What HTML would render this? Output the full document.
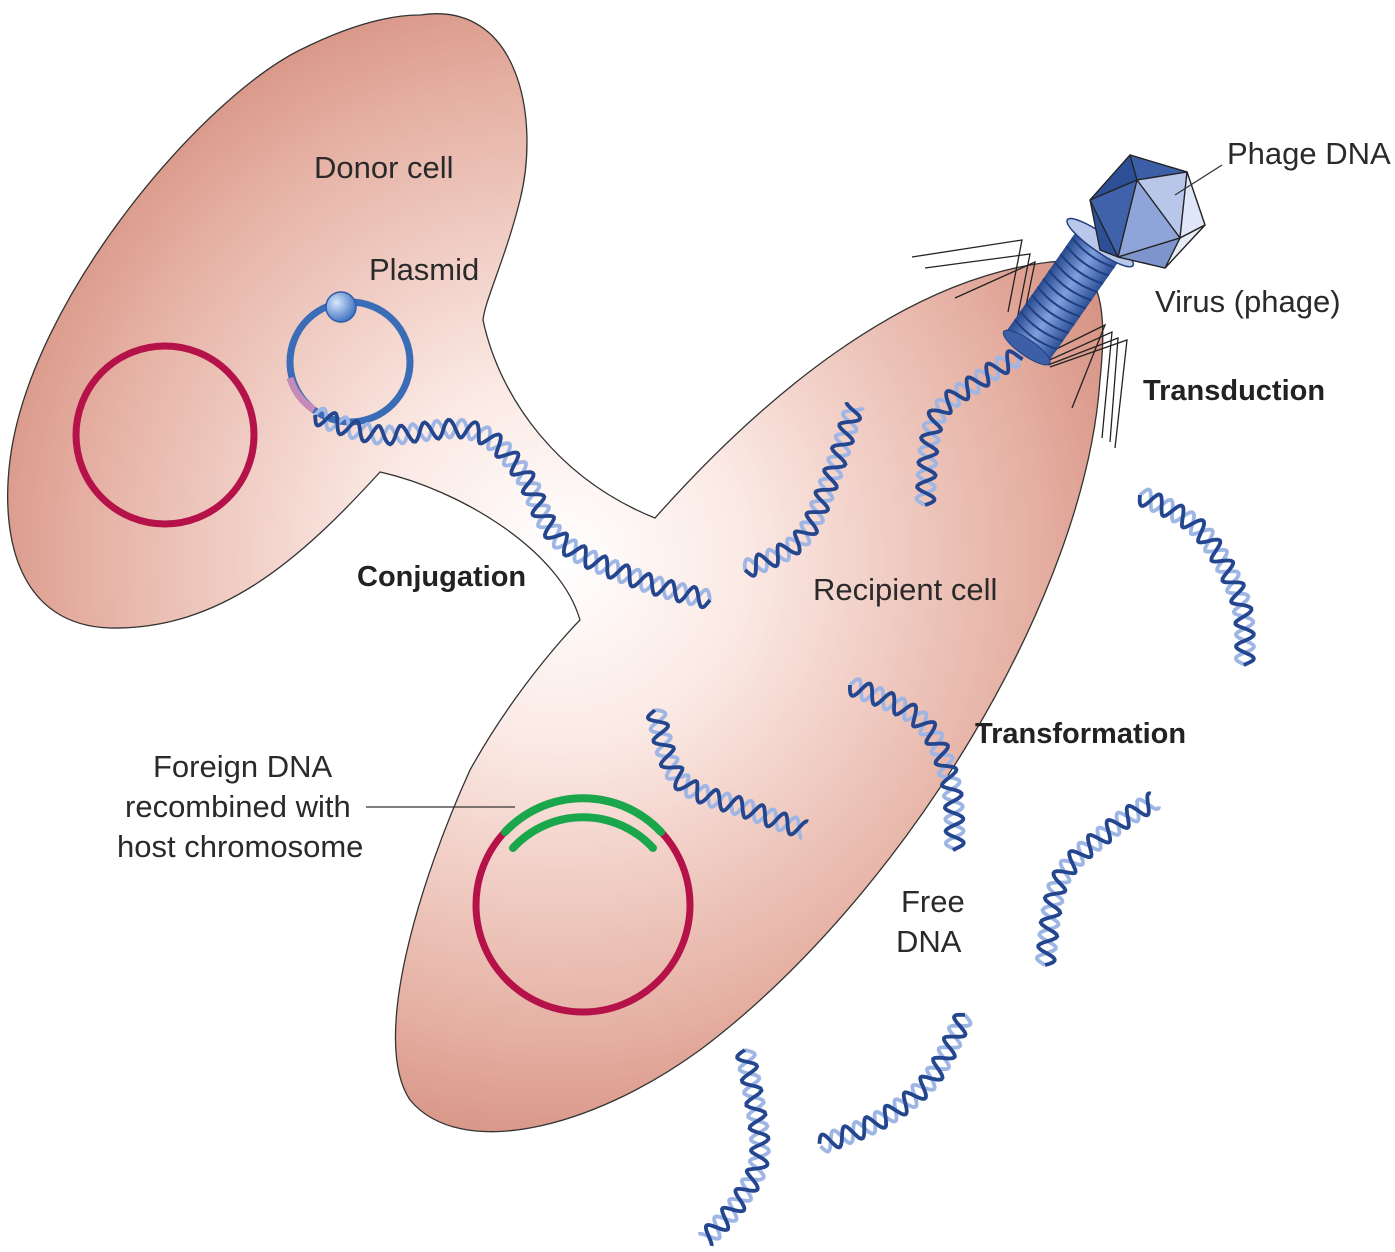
<!DOCTYPE html>
<html><head><meta charset="utf-8"><style>
body{margin:0;background:#fff}
svg{display:block}
text{font-family:"Liberation Sans",sans-serif;font-size:31px;fill:#2a2a2a}
.b{font-weight:bold;fill:#222;font-size:29px}
</style></head><body>
<svg id="s" width="1395" height="1252" viewBox="0 0 1395 1252" xmlns="http://www.w3.org/2000/svg">
<defs>
<radialGradient id="cg" gradientUnits="userSpaceOnUse" cx="560" cy="560" r="620">
<stop offset="0" stop-color="#ffffff"/><stop offset="0.3" stop-color="#fbe9e4"/><stop offset="0.75" stop-color="#e6b2a5"/><stop offset="1" stop-color="#d48e7e"/></radialGradient>
<radialGradient id="sp" cx="0.35" cy="0.35" r="0.7"><stop offset="0" stop-color="#d8e6fb"/><stop offset="1" stop-color="#3a6fc0"/></radialGradient>
<linearGradient id="tg" x1="0" x2="1" y1="0" y2="0"><stop offset="0" stop-color="#27498f"/><stop offset="0.5" stop-color="#7f9fdc"/><stop offset="1" stop-color="#2d4f96"/></linearGradient>
</defs>
<path d="M420 15 C520 0,540 120,520 200 C505 260,485 300,483 320 C500 400,560 480,655 518 C760 400,900 280,1050 262 C1110 255,1105 330,1100 380 C1085 600,900 900,700 1050 C590 1130,460 1160,410 1100 C370 1040,420 880,470 770 C520 680,580 620,580 620 C560 550,460 490,380 472 C300 560,220 630,110 628 C20 625,0 540,10 460 C30 300,200 100,300 50 C350 25,390 15,420 15 Z" fill="url(#cg)" stroke="#333" stroke-width="1.3"/>
<circle cx="165" cy="435" r="89" fill="none" stroke="#b5124a" stroke-width="7"/>
<circle cx="350" cy="362" r="60" fill="none" stroke="#3b6cb7" stroke-width="7"/>
<path d="M290 378 A60 60 0 0 0 314 410" fill="none" stroke="#c48ab8" stroke-width="7"/>
<circle cx="341" cy="307" r="15" fill="url(#sp)" stroke="#2e5ca8" stroke-width="1.5"/>
<circle cx="583" cy="905" r="107" fill="none" stroke="#b5124a" stroke-width="7"/>
<path d="M505 832 A107 107 0 0 1 661 832" fill="none" stroke="#1aa64a" stroke-width="8" stroke-linecap="round"/>
<path d="M513 848 A95 95 0 0 1 653 848" fill="none" stroke="#1aa64a" stroke-width="8" stroke-linecap="round"/>
<line x1="366" y1="807" x2="515" y2="807" stroke="#333" stroke-width="1.3"/>
<g id="dna"></g>
<g stroke="#222" stroke-width="1.3" fill="none">
<polyline points="912,257 1022,240 1008,312"/>
<polyline points="925,268 1030,254 1015,330"/>
<polyline points="955,298 1035,262 1020,335"/>
<polyline points="1040,357 1105,325 1072,408"/>
<polyline points="1045,362 1112,332 1102,438"/>
<polyline points="1048,365 1118,338 1110,442"/>
<polyline points="1050,367 1127,340 1115,448"/>
</g>
<g transform="translate(1060,300) rotate(35)">
<rect x="-26" y="-65" width="52" height="125" fill="url(#tg)"/>
<g stroke="#203f82" stroke-width="2" fill="none">
<path d="M-26 -58 Q0 -50 26 -58"/><path d="M-26 -48 Q0 -40 26 -48"/><path d="M-26 -38 Q0 -30 26 -38"/><path d="M-26 -28 Q0 -20 26 -28"/><path d="M-26 -18 Q0 -10 26 -18"/><path d="M-26 -8 Q0 0 26 -8"/><path d="M-26 2 Q0 10 26 2"/><path d="M-26 12 Q0 20 26 12"/><path d="M-26 22 Q0 30 26 22"/><path d="M-26 32 Q0 40 26 32"/><path d="M-26 42 Q0 50 26 42"/>
</g>
<ellipse cx="0" cy="58" rx="28" ry="8" fill="#3d5fa8" stroke="#203f82"/>
<ellipse cx="0" cy="-70" rx="40" ry="9" fill="#b9c8ea" stroke="#203f82" stroke-width="1.5"/>
</g>
<g stroke="#222" stroke-width="1.3" stroke-linejoin="round">
<polygon points="1130,155 1187,172 1205,225 1165,268 1118,257 1090,200" fill="#a9b8e0"/>
<polygon points="1090,200 1130,155 1137,180 1118,257 1100,250" fill="#2d4f96"/>
<polygon points="1130,155 1187,172 1137,180" fill="#3d5fa8"/>
<polygon points="1137,180 1187,172 1180,238" fill="#b8c6ea"/>
<polygon points="1137,180 1180,238 1118,257" fill="#8fa4d8"/>
<polygon points="1187,172 1205,225 1180,238" fill="#dfe6f7"/>
<polygon points="1180,238 1205,225 1165,268" fill="#e6ebf8"/>
<polygon points="1118,257 1180,238 1165,268" fill="#7d94cc"/>
<polygon points="1090,200 1137,180 1118,257" fill="#3f62ab"/>
</g>
<line x1="1175" y1="195" x2="1222" y2="165" stroke="#333" stroke-width="1.3"/>
<text x="314" y="178">Donor cell</text>
<text x="369" y="280">Plasmid</text>
<text x="1227" y="164">Phage DNA</text>
<text x="1155" y="312">Virus (phage)</text>
<text class="b" x="1143" y="400">Transduction</text>
<text class="b" x="357" y="586">Conjugation</text>
<text x="813" y="600">Recipient cell</text>
<text class="b" x="975" y="743">Transformation</text>
<text x="153" y="777">Foreign DNA</text>
<text x="125" y="817">recombined with</text>
<text x="117" y="857">host chromosome</text>
<text x="901" y="912">Free</text>
<text x="896" y="952">DNA</text>
</svg>
<script>
var paths=[
[[315,415],[380,435],[470,430],[520,470],[560,540],[640,580],[710,600]],
[[745,570],[800,540],[830,480],[855,405]],
[[925,505],[935,420],[980,380],[1020,355]],
[[1140,495],[1200,530],[1240,600],[1245,665]],
[[655,710],[680,780],[750,810],[805,830]],
[[850,685],[920,720],[950,780],[955,850]],
[[1045,965],[1060,880],[1110,830],[1155,800]],
[[965,1015],[930,1080],[880,1120],[820,1145]],
[[745,1050],[760,1150],[740,1200],[705,1240]],
[[1158,205],[1168,190],[1180,180]]];
function cr(p){var o=[];for(var i=0;i<p.length-1;i++){var a=p[Math.max(i-1,0)],b=p[i],c=p[i+1],d=p[Math.min(i+2,p.length-1)];for(var t=0;t<1;t+=0.02){var t2=t*t,t3=t2*t;o.push([0,1].map(function(k){return 0.5*((2*b[k])+(-a[k]+c[k])*t+(2*a[k]-5*b[k]+4*c[k]-d[k])*t2+(-a[k]+3*b[k]-3*c[k]+d[k])*t3);}));}}o.push(p[p.length-1]);return o;}
var g=document.getElementById('dna'),ns='http://www.w3.org/2000/svg';
paths.forEach(function(p,idx){var pts=cr(p),small=idx==9,amp=small?3:9,per=small?8:24;
var s=0,L=[0];for(var i=1;i<pts.length;i++){s+=Math.hypot(pts[i][0]-pts[i-1][0],pts[i][1]-pts[i-1][1]);L.push(s);}
[[Math.PI,'#9fb6e4'],[0,'#23468f']].forEach(function(st){var d='';
for(var i=0;i<pts.length;i++){var a=pts[Math.max(i-1,0)],b=pts[Math.min(i+1,pts.length-1)];var dx=b[0]-a[0],dy=b[1]-a[1],n=Math.hypot(dx,dy)||1;var nx=-dy/n,ny=dx/n;var off=amp*Math.sin(L[i]/per*2*Math.PI+st[0]);d+=(i?'L':'M')+(pts[i][0]+nx*off).toFixed(1)+' '+(pts[i][1]+ny*off).toFixed(1);}
var e=document.createElementNS(ns,'path');e.setAttribute('d',d);e.setAttribute('fill','none');e.setAttribute('stroke',st[1]);e.setAttribute('stroke-width',small?1.5:3.8);g.appendChild(e);});});
</script>
</body></html>
